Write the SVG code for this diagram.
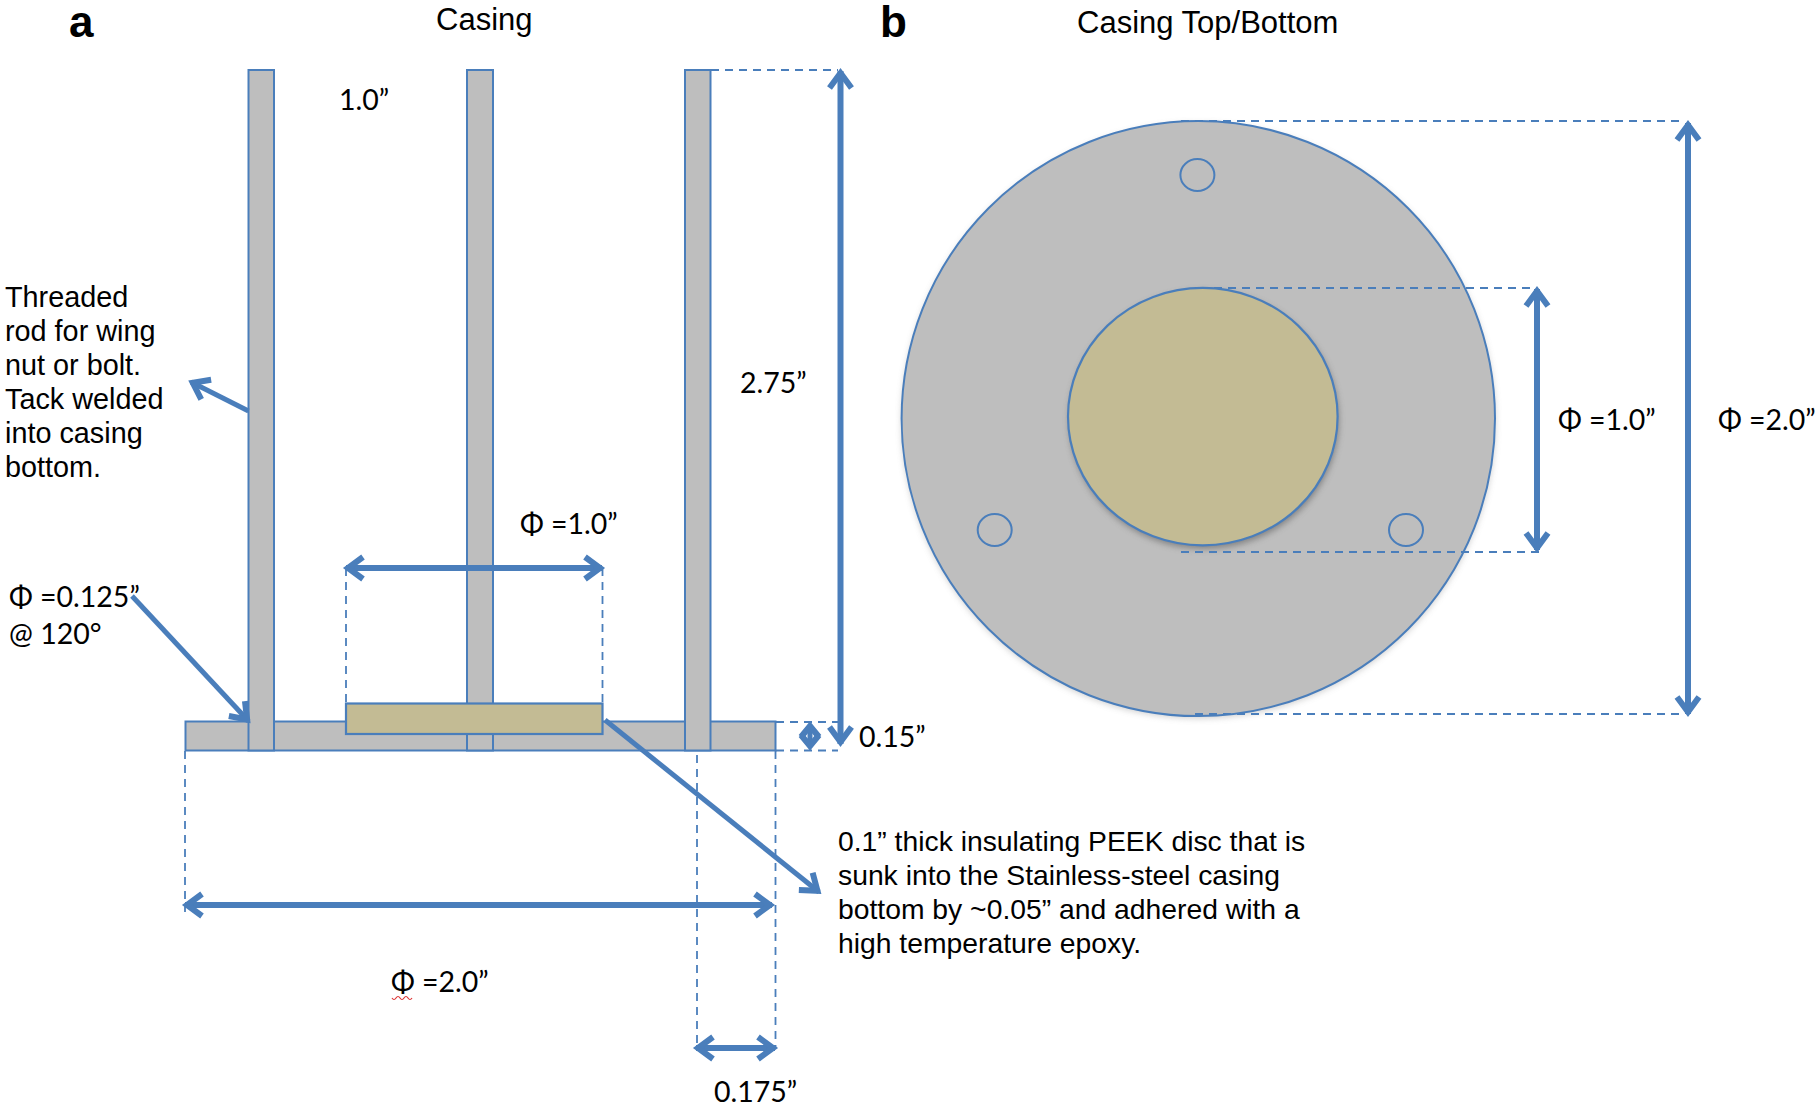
<svg xmlns="http://www.w3.org/2000/svg" width="1820" height="1107" viewBox="0 0 1820 1107">
<style>
.part{fill:#bebebe;stroke:#4a7ebb;stroke-width:2}
.peek{fill:#c3bb94;stroke:#4a7ebb;stroke-width:2.2}
.hole{fill:none;stroke:#4a7ebb;stroke-width:2}
.dash{fill:none;stroke:#4a7ebb;stroke-width:1.8;stroke-dasharray:8 6}
.arrow{fill:none;stroke:#4a7ebb;stroke-width:6;marker-start:url(#head);marker-end:url(#head)}
.lead{fill:none;stroke:#4a7ebb;stroke-width:5;marker-end:url(#head)}
.label{font-family:"Liberation Sans",Arial,sans-serif;font-size:28.8px;fill:#000}
.note{font-family:"Liberation Sans",Arial,sans-serif;font-size:28.3px;fill:#000}
.dim{font-family:Lato,"Liberation Sans",sans-serif;font-size:28.5px;fill:#000}
.title{font-family:"Liberation Sans",Arial,sans-serif;font-size:31px;fill:#000}
.tag{font-family:"Liberation Sans",Arial,sans-serif;font-size:44px;font-weight:bold;fill:#000}
</style>
<defs>
<marker id="head" markerUnits="userSpaceOnUse" markerWidth="36" markerHeight="36" viewBox="-24 -18 36 36" refX="0" refY="0" orient="auto-start-reverse">
<path d="M-17,-11 L-2,0 L-17,11" fill="none" stroke="#4a7ebb" stroke-width="6"/>
</marker>
<marker id="small" markerUnits="userSpaceOnUse" markerWidth="26" markerHeight="26" viewBox="-15 -13 26 26" refX="0" refY="0" orient="auto-start-reverse">
<path d="M-11,-9 L0,0 L-11,9" fill="none" stroke="#4a7ebb" stroke-width="6"/>
</marker>
<filter id="soft" x="-10%" y="-10%" width="120%" height="120%"><feGaussianBlur stdDeviation="3"/></filter>
</defs>
<rect width="1820" height="1107" fill="#fff"/>

<g id="casing-side">
<rect class="part" x="185.5" y="721.5" width="590" height="29"/>
<rect class="part" x="248.5" y="70" width="25.5" height="680.5"/>
<rect class="part" x="467" y="70" width="26" height="680.5"/>
<rect class="part" x="685" y="70" width="25.5" height="680.5"/>
</g>
<g id="peek-disc-side"><rect class="peek" x="346" y="703.5" width="256.5" height="30.5"/></g>

<g id="casing-top">
<ellipse cx="1198.5" cy="421" rx="297" ry="297.5" fill="#888" opacity=".4" filter="url(#soft)"/>
<ellipse class="part" cx="1198.3" cy="418.6" rx="296.7" ry="297.5"/>
</g>
<g id="peek-disc-top">
<ellipse cx="1204" cy="420" rx="135" ry="129" fill="#555" opacity=".55" filter="url(#soft)"/>
<ellipse class="peek" cx="1202.8" cy="416.6" rx="134.8" ry="128.7"/>
</g>
<g id="holes">
<ellipse class="hole" cx="1197.4" cy="175" rx="17" ry="16"/>
<ellipse class="hole" cx="994.7" cy="530" rx="17" ry="16"/>
<ellipse class="hole" cx="1406" cy="530" rx="17" ry="16"/>
</g>

<g id="connectors">
<path class="dash" d="M711,70H838"/>
<path class="dash" d="M346,568V703"/>
<path class="dash" d="M602.5,568V703"/>
<path class="dash" d="M776,722H838"/>
<path class="dash" d="M776,750.5H838"/>
<path class="dash" d="M185,751V912"/>
<path class="dash" d="M697,755V1048"/>
<path class="dash" d="M775.5,751V1048"/>
<path class="dash" d="M1181,121H1684"/>
<path class="dash" d="M1195,714H1685"/>
<path class="dash" d="M1200,288H1534"/>
<path class="dash" d="M1181,552H1540"/>
<path class="arrow" d="M840.5,71V744"/>
<path class="arrow" d="M346,568H602"/>
<path class="arrow" d="M185,905H772"/>
<path class="arrow" d="M696,1048H775"/>
<path class="arrow" d="M1688,123V714"/>
<path class="arrow" d="M1537,289V550"/>
<path d="M810,726V746" fill="none" stroke="#4a7ebb" stroke-width="5" marker-start="url(#small)" marker-end="url(#small)"/>
<path class="lead" d="M248.5,411L191,382"/>
<path class="lead" d="M132,596L248.5,721"/>
<path class="lead" d="M605,720L819,892"/>
</g>

<g id="labels">
<text class="tag" x="69" y="37">a</text>
<text class="tag" x="880" y="37">b</text>
<text class="title" x="436" y="30">Casing</text>
<text class="title" x="1077" y="33">Casing Top/Bottom</text>
<text class="dim" x="339" y="110">1.0”</text>
<text class="dim" x="740" y="393">2.75”</text>
<text class="dim" x="520" y="534">Φ =1.0”</text>
<text class="dim" x="9" y="607">Φ =0.125”</text>
<text class="dim" x="9" y="644">@ 120°</text>
<text class="dim" x="859" y="747">0.15”</text>
<text class="dim" x="391" y="992">Φ =2.0”</text>
<text class="dim" x="714" y="1102">0.175”</text>
<text class="dim" x="1558" y="430">Φ =1.0”</text>
<text class="dim" x="1718" y="430">Φ =2.0”</text>
<path d="M392,998q2,3 4,0t4,0t4,0t4,0t4,0" fill="none" stroke="#d33" stroke-width="1.2"/>
<text class="label" x="5" y="307">Threaded</text>
<text class="label" x="5" y="341">rod for wing</text>
<text class="label" x="5" y="375">nut or bolt.</text>
<text class="label" x="5" y="409">Tack welded</text>
<text class="label" x="5" y="443">into casing</text>
<text class="label" x="5" y="477">bottom.</text>
<text class="note" x="838" y="851">0.1” thick insulating PEEK disc that is</text>
<text class="note" x="838" y="885">sunk into the Stainless-steel casing</text>
<text class="note" x="838" y="919">bottom by ~0.05” and adhered with a</text>
<text class="note" x="838" y="953">high temperature epoxy.</text>
</g>
</svg>
